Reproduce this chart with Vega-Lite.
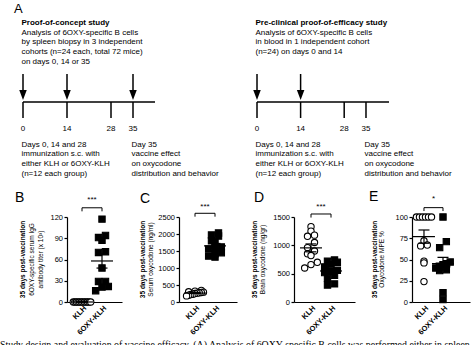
{
  "$schema": "https://vega.github.io/schema/vega-lite/v6.json",
  "padding": 0,
  "config": {
    "view": {"stroke": null},
    "font": "Liberation Sans",
    "axis": {"domainColor": "black", "tickColor": "black", "labelColor": "black", "labelFont": "Liberation Sans", "grid": false, "domainWidth": 1.2, "tickWidth": 1.2, "labelOverlap": false, "labelFlush": false, "labelBound": false},
    "axisY": {"labelOverlap": false},
    "axisQuantitative": {"labelOverlap": false, "tickCount": 10},
    "text": {"font": "Liberation Sans", "color": "black"}
  },
  "title": {"text": "Study design and evaluation of vaccine efficacy. (A) Analysis of 6OXY-specific B cells was performed either in spleen", "orient": "bottom", "anchor": "start", "frame": "group", "dx": -67, "offset": 4, "font": "Liberation Serif", "fontSize": 9.9, "fontWeight": "normal", "color": "black"},
  "datasets": {
    "tl": [
      {"study": "poc", "kind": "line", "day": 0, "end": 42},
      {"study": "poe", "kind": "line", "day": 0, "end": 42.4},
      {"study": "poc", "kind": "tick", "day": 0}, {"study": "poc", "kind": "tick", "day": 14}, {"study": "poc", "kind": "tick", "day": 28}, {"study": "poc", "kind": "tick", "day": 35},
      {"study": "poe", "kind": "tick", "day": 0}, {"study": "poe", "kind": "tick", "day": 14}, {"study": "poe", "kind": "tick", "day": 28}, {"study": "poe", "kind": "tick", "day": 35},
      {"study": "poc", "kind": "arrow", "day": 0}, {"study": "poc", "kind": "arrow", "day": 14}, {"study": "poc", "kind": "arrow", "day": 35},
      {"study": "poe", "kind": "arrow", "day": 0}, {"study": "poe", "kind": "arrow", "day": 14},
      {"study": "poc", "kind": "head", "day": 0, "title": "Proof-of-concept study", "body": ["Analysis of 6OXY-specific B cells", "by spleen biopsy in 3 independent", "cohorts (n=24 each, total 72 mice)", "on days 0, 14 or 35"]},
      {"study": "poe", "kind": "head", "day": 0, "title": "Pre-clinical proof-of-efficacy study", "body": ["Analysis of 6OXY-specific B cells", "in blood in 1 independent cohort", "(n=24) on days 0 and 14"]},
      {"study": "poc", "kind": "note", "day": 0, "body": ["Days 0, 14 and 28", "immunization s.c. with", "either KLH or 6OXY-KLH", "(n=12 each group)"]},
      {"study": "poc", "kind": "note", "day": 35, "body": ["Day 35", "vaccine effect", "on oxycodone", "distribution and behavior"]},
      {"study": "poe", "kind": "note", "day": 0, "body": ["Days 0, 14 and 28", "immunization s.c. with", "either KLH or 6OXY-KLH", "(n=12 each group)"]},
      {"study": "poe", "kind": "note", "day": 35, "body": ["Day 35", "vaccine effect", "on oxycodone", "distribution and behavior"]}
    ],
    "panels": [
      {"panel": "B", "stars": "***", "t0": "35 days post-vaccination", "t1": "6OXY-specific serum IgG", "t2": "antibody titer (x 10³)"},
      {"panel": "C", "stars": "***", "t0": "35 days post-vaccination", "t1": "Serum oxycodone (ng/ml)"},
      {"panel": "D", "stars": "***", "t0": "35 days post-vaccination", "t1": "Brain oxycodone (ng/gr)"},
      {"panel": "E", "stars": "*", "t0": "35 days post-vaccination", "t1": "Oxycodone MPE %"}
    ],
    "dots": [
      {"panel": "B", "group": "KLH", "value": 0}, {"panel": "B", "group": "KLH", "value": 0}, {"panel": "B", "group": "KLH", "value": 0}, {"panel": "B", "group": "KLH", "value": 0},
      {"panel": "B", "group": "KLH", "value": 0}, {"panel": "B", "group": "KLH", "value": 0}, {"panel": "B", "group": "KLH", "value": 0}, {"panel": "B", "group": "KLH", "value": 0},
      {"panel": "B", "group": "KLH", "value": 0}, {"panel": "B", "group": "KLH", "value": 0}, {"panel": "B", "group": "KLH", "value": 0}, {"panel": "B", "group": "KLH", "value": 0},
      {"panel": "B", "group": "6OXY-KLH", "value": 117}, {"panel": "B", "group": "6OXY-KLH", "value": 94}, {"panel": "B", "group": "6OXY-KLH", "value": 91}, {"panel": "B", "group": "6OXY-KLH", "value": 87},
      {"panel": "B", "group": "6OXY-KLH", "value": 71}, {"panel": "B", "group": "6OXY-KLH", "value": 70}, {"panel": "B", "group": "6OXY-KLH", "value": 48}, {"panel": "B", "group": "6OXY-KLH", "value": 29},
      {"panel": "B", "group": "6OXY-KLH", "value": 29}, {"panel": "B", "group": "6OXY-KLH", "value": 22}, {"panel": "B", "group": "6OXY-KLH", "value": 21}, {"panel": "B", "group": "6OXY-KLH", "value": 16},
      {"panel": "C", "group": "KLH", "value": 340}, {"panel": "C", "group": "KLH", "value": 320}, {"panel": "C", "group": "KLH", "value": 300}, {"panel": "C", "group": "KLH", "value": 290},
      {"panel": "C", "group": "KLH", "value": 280}, {"panel": "C", "group": "KLH", "value": 270}, {"panel": "C", "group": "KLH", "value": 260}, {"panel": "C", "group": "KLH", "value": 250},
      {"panel": "C", "group": "KLH", "value": 230}, {"panel": "C", "group": "KLH", "value": 220}, {"panel": "C", "group": "KLH", "value": 200}, {"panel": "C", "group": "KLH", "value": 180},
      {"panel": "C", "group": "6OXY-KLH", "value": 2030}, {"panel": "C", "group": "6OXY-KLH", "value": 1970}, {"panel": "C", "group": "6OXY-KLH", "value": 1940}, {"panel": "C", "group": "6OXY-KLH", "value": 1800},
      {"panel": "C", "group": "6OXY-KLH", "value": 1760}, {"panel": "C", "group": "6OXY-KLH", "value": 1620}, {"panel": "C", "group": "6OXY-KLH", "value": 1590}, {"panel": "C", "group": "6OXY-KLH", "value": 1560},
      {"panel": "C", "group": "6OXY-KLH", "value": 1450}, {"panel": "C", "group": "6OXY-KLH", "value": 1420}, {"panel": "C", "group": "6OXY-KLH", "value": 1350}, {"panel": "C", "group": "6OXY-KLH", "value": 1320},
      {"panel": "D", "group": "KLH", "value": 1330}, {"panel": "D", "group": "KLH", "value": 1250}, {"panel": "D", "group": "KLH", "value": 1180}, {"panel": "D", "group": "KLH", "value": 1160},
      {"panel": "D", "group": "KLH", "value": 1050}, {"panel": "D", "group": "KLH", "value": 960}, {"panel": "D", "group": "KLH", "value": 900}, {"panel": "D", "group": "KLH", "value": 850},
      {"panel": "D", "group": "KLH", "value": 820}, {"panel": "D", "group": "KLH", "value": 700}, {"panel": "D", "group": "KLH", "value": 660}, {"panel": "D", "group": "KLH", "value": 600},
      {"panel": "D", "group": "6OXY-KLH", "value": 740}, {"panel": "D", "group": "6OXY-KLH", "value": 720}, {"panel": "D", "group": "6OXY-KLH", "value": 700}, {"panel": "D", "group": "6OXY-KLH", "value": 660},
      {"panel": "D", "group": "6OXY-KLH", "value": 620}, {"panel": "D", "group": "6OXY-KLH", "value": 560}, {"panel": "D", "group": "6OXY-KLH", "value": 540}, {"panel": "D", "group": "6OXY-KLH", "value": 520},
      {"panel": "D", "group": "6OXY-KLH", "value": 470}, {"panel": "D", "group": "6OXY-KLH", "value": 420}, {"panel": "D", "group": "6OXY-KLH", "value": 320}, {"panel": "D", "group": "6OXY-KLH", "value": 300},
      {"panel": "E", "group": "KLH", "value": 100}, {"panel": "E", "group": "KLH", "value": 100}, {"panel": "E", "group": "KLH", "value": 100}, {"panel": "E", "group": "KLH", "value": 100},
      {"panel": "E", "group": "KLH", "value": 100}, {"panel": "E", "group": "KLH", "value": 100}, {"panel": "E", "group": "KLH", "value": 72}, {"panel": "E", "group": "KLH", "value": 67},
      {"panel": "E", "group": "KLH", "value": 66}, {"panel": "E", "group": "KLH", "value": 48}, {"panel": "E", "group": "KLH", "value": 46}, {"panel": "E", "group": "KLH", "value": 24},
      {"panel": "E", "group": "6OXY-KLH", "value": 100}, {"panel": "E", "group": "6OXY-KLH", "value": 71}, {"panel": "E", "group": "6OXY-KLH", "value": 64}, {"panel": "E", "group": "6OXY-KLH", "value": 47},
      {"panel": "E", "group": "6OXY-KLH", "value": 45}, {"panel": "E", "group": "6OXY-KLH", "value": 44}, {"panel": "E", "group": "6OXY-KLH", "value": 42}, {"panel": "E", "group": "6OXY-KLH", "value": 40},
      {"panel": "E", "group": "6OXY-KLH", "value": 38}, {"panel": "E", "group": "6OXY-KLH", "value": 37}, {"panel": "E", "group": "6OXY-KLH", "value": 11}, {"panel": "E", "group": "6OXY-KLH", "value": 3}
    ]
  },
  "columns": 4,
  "align": "each",
  "bounds": "flush",
  "spacing": {"row": 32, "column": 57},
  "concat": [
    {
      "width": 55, "height": 185,
      "data": {"name": "tl"},
      "transform": [{"filter": "datum.study === 'poc'"}],
      "layer": [
        {"transform": [{"filter": "datum.kind === 'line'"}], "mark": {"type": "rule", "strokeWidth": 1.5, "color": "black"},
         "encoding": {"x": {"field": "day", "type": "quantitative", "scale": {"domain": [14, 31.5], "nice": false, "zero": false}, "axis": null}, "x2": {"field": "end"}, "y": {"datum": 10.2, "type": "quantitative", "scale": {"domain": [0, 18.5], "reverse": true, "nice": false, "zero": false}, "axis": null}}},
        {"transform": [{"filter": "datum.kind === 'tick'"}], "mark": {"type": "rule", "strokeWidth": 1.5, "color": "black"},
         "encoding": {"x": {"field": "day", "type": "quantitative"}, "y": {"datum": 10.2, "type": "quantitative"}, "y2": {"datum": 11.8}}},
        {"transform": [{"filter": "datum.kind === 'tick'"}], "mark": {"type": "text", "fontSize": 8, "align": "center", "baseline": "middle"},
         "encoding": {"x": {"field": "day", "type": "quantitative"}, "y": {"datum": 12.85, "type": "quantitative"}, "text": {"field": "day"}}},
        {"transform": [{"filter": "datum.kind === 'arrow'"}], "mark": {"type": "rule", "strokeWidth": 1.5, "color": "black"},
         "encoding": {"x": {"field": "day", "type": "quantitative"}, "y": {"datum": 7.4, "type": "quantitative"}, "y2": {"datum": 9.2}}},
        {"transform": [{"filter": "datum.kind === 'arrow'"}], "mark": {"type": "point", "shape": "M-0.75,-1L0.75,-1L0,1Z", "size": 100, "filled": true, "color": "black", "opacity": 1},
         "encoding": {"x": {"field": "day", "type": "quantitative"}, "y": {"datum": 9.5, "type": "quantitative"}}},
        {"transform": [{"filter": "datum.kind === 'head'"}], "mark": {"type": "text", "fontSize": 8, "fontWeight": "bold", "align": "left", "baseline": "top", "dx": -1.5},
         "encoding": {"x": {"field": "day", "type": "quantitative"}, "y": {"datum": 1.86, "type": "quantitative"}, "text": {"field": "title"}}},
        {"transform": [{"filter": "datum.kind === 'head'"}], "mark": {"type": "text", "fontSize": 8, "align": "left", "baseline": "top", "lineHeight": 9.8, "dx": -1.5},
         "encoding": {"x": {"field": "day", "type": "quantitative"}, "y": {"datum": 2.86, "type": "quantitative"}, "text": {"field": "body"}}},
        {"transform": [{"filter": "datum.kind === 'note'"}], "mark": {"type": "text", "fontSize": 8, "align": "left", "baseline": "top", "lineHeight": 9.9, "dx": -1.5},
         "encoding": {"x": {"field": "day", "type": "quantitative"}, "y": {"datum": 14.06, "type": "quantitative"}, "text": {"field": "body"}}},
        {"data": {"values": [{"label": "A"}]}, "transform": [], "mark": {"type": "text", "fontSize": 13, "align": "left", "baseline": "alphabetic"},
         "encoding": {"x": {"datum": -2.86, "type": "quantitative"}, "y": {"datum": 1.3, "type": "quantitative"}, "text": {"field": "label"}}}
      ]
    },
    {"width": 58, "height": 185, "data": {"values": []}, "mark": "point"},
    {
      "width": 61, "height": 185,
      "data": {"name": "tl"},
      "transform": [{"filter": "datum.study === 'poe'"}],
      "layer": [
        {"transform": [{"filter": "datum.kind === 'line'"}], "mark": {"type": "rule", "strokeWidth": 1.5, "color": "black"},
         "encoding": {"x": {"field": "day", "type": "quantitative", "scale": {"domain": [11.88, 31.47], "nice": false, "zero": false}, "axis": null}, "x2": {"field": "end"}, "y": {"datum": 10.2, "type": "quantitative", "scale": {"domain": [0, 18.5], "reverse": true, "nice": false, "zero": false}, "axis": null}}},
        {"transform": [{"filter": "datum.kind === 'tick'"}], "mark": {"type": "rule", "strokeWidth": 1.5, "color": "black"},
         "encoding": {"x": {"field": "day", "type": "quantitative"}, "y": {"datum": 10.2, "type": "quantitative"}, "y2": {"datum": 11.8}}},
        {"transform": [{"filter": "datum.kind === 'tick'"}], "mark": {"type": "text", "fontSize": 8, "align": "center", "baseline": "middle"},
         "encoding": {"x": {"field": "day", "type": "quantitative"}, "y": {"datum": 12.85, "type": "quantitative"}, "text": {"field": "day"}}},
        {"transform": [{"filter": "datum.kind === 'arrow'"}], "mark": {"type": "rule", "strokeWidth": 1.5, "color": "black"},
         "encoding": {"x": {"field": "day", "type": "quantitative"}, "y": {"datum": 7.4, "type": "quantitative"}, "y2": {"datum": 9.2}}},
        {"transform": [{"filter": "datum.kind === 'arrow'"}], "mark": {"type": "point", "shape": "M-0.75,-1L0.75,-1L0,1Z", "size": 100, "filled": true, "color": "black", "opacity": 1},
         "encoding": {"x": {"field": "day", "type": "quantitative"}, "y": {"datum": 9.5, "type": "quantitative"}}},
        {"transform": [{"filter": "datum.kind === 'head'"}], "mark": {"type": "text", "fontSize": 8, "fontWeight": "bold", "align": "left", "baseline": "top", "dx": -1.5},
         "encoding": {"x": {"field": "day", "type": "quantitative"}, "y": {"datum": 1.86, "type": "quantitative"}, "text": {"field": "title"}}},
        {"transform": [{"filter": "datum.kind === 'head'"}], "mark": {"type": "text", "fontSize": 8, "align": "left", "baseline": "top", "lineHeight": 9.8, "dx": -1.5},
         "encoding": {"x": {"field": "day", "type": "quantitative"}, "y": {"datum": 2.86, "type": "quantitative"}, "text": {"field": "body"}}},
        {"transform": [{"filter": "datum.kind === 'note'"}], "mark": {"type": "text", "fontSize": 8, "align": "left", "baseline": "top", "lineHeight": 9.9, "dx": -1.5},
         "encoding": {"x": {"field": "day", "type": "quantitative"}, "y": {"datum": 14.06, "type": "quantitative"}, "text": {"field": "body"}}}
      ]
    },
    {"width": 58, "height": 185, "data": {"values": []}, "mark": "point"},
    {
      "width": 55, "height": 85,
      "layer": [
        {"data": {"name": "dots"},
         "transform": [{"filter": "datum.panel === 'B'"}, {"bin": {"step": 8}, "field": "value", "as": "vb"}, {"joinaggregate": [{"op": "count", "as": "n"}], "groupby": ["group", "vb"]}, {"window": [{"op": "row_number", "as": "slot"}], "groupby": ["group", "vb"], "sort": [{"field": "value", "order": "ascending"}]}, {"calculate": "(datum.group === 'KLH' ? 1 : 2) + (datum.slot - 1 - (datum.n - 1) / 2) * min(0.35, 0.95 / datum.n)", "as": "pos"}],
         "mark": {"type": "point", "filled": true, "size": 40, "stroke": "black", "strokeWidth": 1.1, "opacity": 1},
         "encoding": {
           "x": {"field": "pos", "type": "quantitative", "title": null, "scale": {"domain": [0.25, 3], "nice": false, "zero": false}, "axis": {"values": [1, 2], "labelExpr": "datum.value === 1 ? 'KLH' : '6OXY-KLH'", "labelAngle": -45, "ticks": false, "labelOverlap": false, "labelFlush": false, "labelFontSize": 7.5, "labelFontWeight": "bold", "labelPadding": 2}},
           "y": {"field": "value", "type": "quantitative", "title": null, "scale": {"domain": [0, 120], "nice": false, "zero": false}, "axis": {"values": [0, 30, 60, 90, 120], "format": "d", "tickSize": 3, "labelFontSize": 7.5, "labelPadding": 1.5, "labelFlush": false, "labelOverlap": false}},
           "shape": {"field": "group", "type": "nominal", "scale": {"domain": ["KLH", "6OXY-KLH"], "range": ["circle", "square"]}, "legend": null},
           "fill": {"field": "group", "type": "nominal", "scale": {"domain": ["KLH", "6OXY-KLH"], "range": ["white", "black"]}, "legend": null}
         }},
        {"data": {"name": "dots"},
         "transform": [{"filter": "datum.panel === 'B'"}, {"aggregate": [{"op": "mean", "field": "value", "as": "m"}, {"op": "stderr", "field": "value", "as": "se"}], "groupby": ["group"]}, {"calculate": "datum.group === 'KLH' ? 1 : 2", "as": "gi"}, {"calculate": "datum.m - datum.se", "as": "lo"}, {"calculate": "datum.m + datum.se", "as": "hi"}],
         "layer": [
           {"mark": {"type": "tick", "orient": "horizontal", "size": 22, "thickness": 1.2, "color": "black", "opacity": 1}, "encoding": {"x": {"field": "gi", "type": "quantitative", "title": null}, "y": {"field": "m", "type": "quantitative", "title": null}}},
           {"mark": {"type": "rule", "strokeWidth": 1.2, "color": "black"}, "encoding": {"x": {"field": "gi", "type": "quantitative", "title": null}, "y": {"field": "lo", "type": "quantitative", "title": null}, "y2": {"field": "hi"}}},
           {"mark": {"type": "tick", "orient": "horizontal", "size": 11, "thickness": 1.2, "color": "black", "opacity": 1}, "encoding": {"x": {"field": "gi", "type": "quantitative", "title": null}, "y": {"field": "lo", "type": "quantitative", "title": null}}},
           {"mark": {"type": "tick", "orient": "horizontal", "size": 11, "thickness": 1.2, "color": "black", "opacity": 1}, "encoding": {"x": {"field": "gi", "type": "quantitative", "title": null}, "y": {"field": "hi", "type": "quantitative", "title": null}}}
         ]},
        {"data": {"name": "panels"}, "transform": [{"filter": "datum.panel === 'B'"}],
         "layer": [
           {"mark": {"type": "rule", "strokeWidth": 1, "color": "black"}, "encoding": {"x": {"datum": 1, "type": "quantitative"}, "x2": {"datum": 2}, "y": {"datum": 133, "type": "quantitative"}}},
           {"mark": {"type": "rule", "strokeWidth": 1, "color": "black"}, "encoding": {"x": {"datum": 1, "type": "quantitative"}, "y": {"datum": 133, "type": "quantitative"}, "y2": {"datum": 128}}},
           {"mark": {"type": "rule", "strokeWidth": 1, "color": "black"}, "encoding": {"x": {"datum": 2, "type": "quantitative"}, "y": {"datum": 133, "type": "quantitative"}, "y2": {"datum": 128}}},
           {"mark": {"type": "text", "fontSize": 8, "align": "center", "baseline": "alphabetic"}, "encoding": {"x": {"datum": 1.5, "type": "quantitative"}, "y": {"datum": 140.5, "type": "quantitative"}, "text": {"field": "stars"}}},
           {"mark": {"type": "text", "fontSize": 14, "align": "left", "baseline": "alphabetic"}, "encoding": {"x": {"datum": -2.35, "type": "quantitative"}, "y": {"datum": 141.2, "type": "quantitative"}, "text": {"field": "panel"}}},
           {"mark": {"type": "text", "fontSize": 6.5, "fontWeight": "bold", "angle": 270, "align": "center", "baseline": "middle"}, "encoding": {"x": {"datum": -1.95, "type": "quantitative"}, "y": {"datum": 60, "type": "quantitative"}, "text": {"field": "t0"}}},
           {"mark": {"type": "text", "fontSize": 6.5, "angle": 270, "align": "center", "baseline": "middle"}, "encoding": {"x": {"datum": -1.5, "type": "quantitative"}, "y": {"datum": 60, "type": "quantitative"}, "text": {"field": "t1"}}},
           {"mark": {"type": "text", "fontSize": 6.5, "angle": 270, "align": "center", "baseline": "middle"}, "encoding": {"x": {"datum": -1.05, "type": "quantitative"}, "y": {"datum": 60, "type": "quantitative"}, "text": {"field": "t2"}}}
         ]}
      ]
    },
    {
      "width": 58, "height": 85,
      "layer": [
        {"data": {"name": "dots"},
         "transform": [{"filter": "datum.panel === 'C'"}, {"bin": {"step": 150}, "field": "value", "as": "vb"}, {"joinaggregate": [{"op": "count", "as": "n"}], "groupby": ["group", "vb"]}, {"window": [{"op": "row_number", "as": "slot"}], "groupby": ["group", "vb"], "sort": [{"field": "value", "order": "ascending"}]}, {"calculate": "(datum.group === 'KLH' ? 1 : 2) + (datum.slot - 1 - (datum.n - 1) / 2) * min(0.35, 0.95 / datum.n)", "as": "pos"}],
         "mark": {"type": "point", "filled": true, "size": 40, "stroke": "black", "strokeWidth": 1.1, "opacity": 1},
         "encoding": {
           "x": {"field": "pos", "type": "quantitative", "title": null, "scale": {"domain": [0.2, 3.1], "nice": false, "zero": false}, "axis": {"values": [1, 2], "labelExpr": "datum.value === 1 ? 'KLH' : '6OXY-KLH'", "labelAngle": -45, "ticks": false, "labelOverlap": false, "labelFlush": false, "labelFontSize": 7.5, "labelFontWeight": "bold", "labelPadding": 2}},
           "y": {"field": "value", "type": "quantitative", "title": null, "scale": {"domain": [0, 2500], "nice": false, "zero": false}, "axis": {"values": [0, 500, 1000, 1500, 2000, 2500], "format": "d", "tickSize": 3, "labelFontSize": 7.5, "labelPadding": 1.5, "labelFlush": false, "labelOverlap": false}},
           "shape": {"field": "group", "type": "nominal", "scale": {"domain": ["KLH", "6OXY-KLH"], "range": ["circle", "square"]}, "legend": null},
           "fill": {"field": "group", "type": "nominal", "scale": {"domain": ["KLH", "6OXY-KLH"], "range": ["white", "black"]}, "legend": null}
         }},
        {"data": {"name": "dots"},
         "transform": [{"filter": "datum.panel === 'C'"}, {"aggregate": [{"op": "mean", "field": "value", "as": "m"}, {"op": "stderr", "field": "value", "as": "se"}], "groupby": ["group"]}, {"calculate": "datum.group === 'KLH' ? 1 : 2", "as": "gi"}, {"calculate": "datum.m - datum.se", "as": "lo"}, {"calculate": "datum.m + datum.se", "as": "hi"}],
         "layer": [
           {"mark": {"type": "tick", "orient": "horizontal", "size": 22, "thickness": 1.2, "color": "black", "opacity": 1}, "encoding": {"x": {"field": "gi", "type": "quantitative", "title": null}, "y": {"field": "m", "type": "quantitative", "title": null}}},
           {"mark": {"type": "rule", "strokeWidth": 1.2, "color": "black"}, "encoding": {"x": {"field": "gi", "type": "quantitative", "title": null}, "y": {"field": "lo", "type": "quantitative", "title": null}, "y2": {"field": "hi"}}},
           {"mark": {"type": "tick", "orient": "horizontal", "size": 11, "thickness": 1.2, "color": "black", "opacity": 1}, "encoding": {"x": {"field": "gi", "type": "quantitative", "title": null}, "y": {"field": "lo", "type": "quantitative", "title": null}}},
           {"mark": {"type": "tick", "orient": "horizontal", "size": 11, "thickness": 1.2, "color": "black", "opacity": 1}, "encoding": {"x": {"field": "gi", "type": "quantitative", "title": null}, "y": {"field": "hi", "type": "quantitative", "title": null}}}
         ]},
        {"data": {"name": "panels"}, "transform": [{"filter": "datum.panel === 'C'"}],
         "layer": [
           {"mark": {"type": "rule", "strokeWidth": 1, "color": "black"}, "encoding": {"x": {"datum": 1, "type": "quantitative"}, "x2": {"datum": 2}, "y": {"datum": 2609, "type": "quantitative"}}},
           {"mark": {"type": "rule", "strokeWidth": 1, "color": "black"}, "encoding": {"x": {"datum": 1, "type": "quantitative"}, "y": {"datum": 2609, "type": "quantitative"}, "y2": {"datum": 2510}}},
           {"mark": {"type": "rule", "strokeWidth": 1, "color": "black"}, "encoding": {"x": {"datum": 2, "type": "quantitative"}, "y": {"datum": 2609, "type": "quantitative"}, "y2": {"datum": 2510}}},
           {"mark": {"type": "text", "fontSize": 8, "align": "center", "baseline": "alphabetic"}, "encoding": {"x": {"datum": 1.5, "type": "quantitative"}, "y": {"datum": 2750, "type": "quantitative"}, "text": {"field": "stars"}}},
           {"mark": {"type": "text", "fontSize": 14, "align": "left", "baseline": "alphabetic"}, "encoding": {"x": {"datum": -1.75, "type": "quantitative"}, "y": {"datum": 2912, "type": "quantitative"}, "text": {"field": "panel"}}},
           {"mark": {"type": "text", "fontSize": 6.5, "fontWeight": "bold", "angle": 270, "align": "center", "baseline": "middle"}, "encoding": {"x": {"datum": -1.6, "type": "quantitative"}, "y": {"datum": 1250, "type": "quantitative"}, "text": {"field": "t0"}}},
           {"mark": {"type": "text", "fontSize": 6.5, "angle": 270, "align": "center", "baseline": "middle"}, "encoding": {"x": {"datum": -1.2, "type": "quantitative"}, "y": {"datum": 1250, "type": "quantitative"}, "text": {"field": "t1"}}}
         ]}
      ]
    },
    {
      "width": 61, "height": 85,
      "layer": [
        {"data": {"name": "dots"},
         "transform": [{"filter": "datum.panel === 'D'"}, {"bin": {"step": 120}, "field": "value", "as": "vb"}, {"joinaggregate": [{"op": "count", "as": "n"}], "groupby": ["group", "vb"]}, {"window": [{"op": "row_number", "as": "slot"}], "groupby": ["group", "vb"], "sort": [{"field": "value", "order": "ascending"}]}, {"calculate": "(datum.group === 'KLH' ? 1 : 2) + (datum.slot - 1 - (datum.n - 1) / 2) * min(0.35, 0.95 / datum.n)", "as": "pos"}],
         "mark": {"type": "point", "filled": true, "size": 40, "stroke": "black", "strokeWidth": 1.1, "opacity": 1},
         "encoding": {
           "x": {"field": "pos", "type": "quantitative", "title": null, "scale": {"domain": [0.15, 3.2], "nice": false, "zero": false}, "axis": {"values": [1, 2], "labelExpr": "datum.value === 1 ? 'KLH' : '6OXY-KLH'", "labelAngle": -45, "ticks": false, "labelOverlap": false, "labelFlush": false, "labelFontSize": 7.5, "labelFontWeight": "bold", "labelPadding": 2}},
           "y": {"field": "value", "type": "quantitative", "title": null, "scale": {"domain": [0, 1500], "nice": false, "zero": false}, "axis": {"values": [0, 500, 1000, 1500], "format": "d", "tickSize": 3, "labelFontSize": 7.5, "labelPadding": 1.5, "labelFlush": false, "labelOverlap": false}},
           "shape": {"field": "group", "type": "nominal", "scale": {"domain": ["KLH", "6OXY-KLH"], "range": ["circle", "square"]}, "legend": null},
           "fill": {"field": "group", "type": "nominal", "scale": {"domain": ["KLH", "6OXY-KLH"], "range": ["white", "black"]}, "legend": null}
         }},
        {"data": {"name": "dots"},
         "transform": [{"filter": "datum.panel === 'D'"}, {"aggregate": [{"op": "mean", "field": "value", "as": "m"}, {"op": "stderr", "field": "value", "as": "se"}], "groupby": ["group"]}, {"calculate": "datum.group === 'KLH' ? 1 : 2", "as": "gi"}, {"calculate": "datum.m - datum.se", "as": "lo"}, {"calculate": "datum.m + datum.se", "as": "hi"}],
         "layer": [
           {"mark": {"type": "tick", "orient": "horizontal", "size": 22, "thickness": 1.2, "color": "black", "opacity": 1}, "encoding": {"x": {"field": "gi", "type": "quantitative", "title": null}, "y": {"field": "m", "type": "quantitative", "title": null}}},
           {"mark": {"type": "rule", "strokeWidth": 1.2, "color": "black"}, "encoding": {"x": {"field": "gi", "type": "quantitative", "title": null}, "y": {"field": "lo", "type": "quantitative", "title": null}, "y2": {"field": "hi"}}},
           {"mark": {"type": "tick", "orient": "horizontal", "size": 11, "thickness": 1.2, "color": "black", "opacity": 1}, "encoding": {"x": {"field": "gi", "type": "quantitative", "title": null}, "y": {"field": "lo", "type": "quantitative", "title": null}}},
           {"mark": {"type": "tick", "orient": "horizontal", "size": 11, "thickness": 1.2, "color": "black", "opacity": 1}, "encoding": {"x": {"field": "gi", "type": "quantitative", "title": null}, "y": {"field": "hi", "type": "quantitative", "title": null}}}
         ]},
        {"data": {"name": "panels"}, "transform": [{"filter": "datum.panel === 'D'"}],
         "layer": [
           {"mark": {"type": "rule", "strokeWidth": 1, "color": "black"}, "encoding": {"x": {"datum": 1, "type": "quantitative"}, "x2": {"datum": 2}, "y": {"datum": 1553, "type": "quantitative"}}},
           {"mark": {"type": "rule", "strokeWidth": 1, "color": "black"}, "encoding": {"x": {"datum": 1, "type": "quantitative"}, "y": {"datum": 1553, "type": "quantitative"}, "y2": {"datum": 1490}}},
           {"mark": {"type": "rule", "strokeWidth": 1, "color": "black"}, "encoding": {"x": {"datum": 2, "type": "quantitative"}, "y": {"datum": 1553, "type": "quantitative"}, "y2": {"datum": 1490}}},
           {"mark": {"type": "text", "fontSize": 8, "align": "center", "baseline": "alphabetic"}, "encoding": {"x": {"datum": 1.5, "type": "quantitative"}, "y": {"datum": 1650, "type": "quantitative"}, "text": {"field": "stars"}}},
           {"mark": {"type": "text", "fontSize": 14, "align": "left", "baseline": "alphabetic"}, "encoding": {"x": {"datum": -1.85, "type": "quantitative"}, "y": {"datum": 1765, "type": "quantitative"}, "text": {"field": "panel"}}},
           {"mark": {"type": "text", "fontSize": 6.5, "fontWeight": "bold", "angle": 270, "align": "center", "baseline": "middle"}, "encoding": {"x": {"datum": -1.8, "type": "quantitative"}, "y": {"datum": 750, "type": "quantitative"}, "text": {"field": "t0"}}},
           {"mark": {"type": "text", "fontSize": 6.5, "angle": 270, "align": "center", "baseline": "middle"}, "encoding": {"x": {"datum": -1.425, "type": "quantitative"}, "y": {"datum": 750, "type": "quantitative"}, "text": {"field": "t1"}}}
         ]}
      ]
    },
    {
      "width": 58, "height": 85,
      "layer": [
        {"data": {"name": "dots"},
         "transform": [{"filter": "datum.panel === 'E'"}, {"bin": {"step": 8}, "field": "value", "as": "vb"}, {"joinaggregate": [{"op": "count", "as": "n"}], "groupby": ["group", "vb"]}, {"window": [{"op": "row_number", "as": "slot"}], "groupby": ["group", "vb"], "sort": [{"field": "value", "order": "ascending"}]}, {"calculate": "(datum.group === 'KLH' ? 1 : 2) + (datum.slot - 1 - (datum.n - 1) / 2) * min(0.35, 0.95 / datum.n)", "as": "pos"}],
         "mark": {"type": "point", "filled": true, "size": 40, "stroke": "black", "strokeWidth": 1.1, "opacity": 1},
         "encoding": {
           "x": {"field": "pos", "type": "quantitative", "title": null, "scale": {"domain": [0.37, 3.42], "nice": false, "zero": false}, "axis": {"values": [1, 2], "labelExpr": "datum.value === 1 ? 'KLH' : '6OXY-KLH'", "labelAngle": -45, "ticks": false, "labelOverlap": false, "labelFlush": false, "labelFontSize": 7.5, "labelFontWeight": "bold", "labelPadding": 2}},
           "y": {"field": "value", "type": "quantitative", "title": null, "scale": {"domain": [0, 100], "nice": false, "zero": false}, "axis": {"values": [0, 25, 50, 75, 100], "format": "d", "tickSize": 3, "labelFontSize": 7.5, "labelPadding": 1.5, "labelFlush": false, "labelOverlap": false}},
           "shape": {"field": "group", "type": "nominal", "scale": {"domain": ["KLH", "6OXY-KLH"], "range": ["circle", "square"]}, "legend": null},
           "fill": {"field": "group", "type": "nominal", "scale": {"domain": ["KLH", "6OXY-KLH"], "range": ["white", "black"]}, "legend": null}
         }},
        {"data": {"name": "dots"},
         "transform": [{"filter": "datum.panel === 'E'"}, {"aggregate": [{"op": "mean", "field": "value", "as": "m"}, {"op": "stderr", "field": "value", "as": "se"}], "groupby": ["group"]}, {"calculate": "datum.group === 'KLH' ? 1 : 2", "as": "gi"}, {"calculate": "datum.m - datum.se", "as": "lo"}, {"calculate": "datum.m + datum.se", "as": "hi"}],
         "layer": [
           {"mark": {"type": "tick", "orient": "horizontal", "size": 22, "thickness": 1.2, "color": "black", "opacity": 1}, "encoding": {"x": {"field": "gi", "type": "quantitative", "title": null}, "y": {"field": "m", "type": "quantitative", "title": null}}},
           {"mark": {"type": "rule", "strokeWidth": 1.2, "color": "black"}, "encoding": {"x": {"field": "gi", "type": "quantitative", "title": null}, "y": {"field": "lo", "type": "quantitative", "title": null}, "y2": {"field": "hi"}}},
           {"mark": {"type": "tick", "orient": "horizontal", "size": 11, "thickness": 1.2, "color": "black", "opacity": 1}, "encoding": {"x": {"field": "gi", "type": "quantitative", "title": null}, "y": {"field": "lo", "type": "quantitative", "title": null}}},
           {"mark": {"type": "tick", "orient": "horizontal", "size": 11, "thickness": 1.2, "color": "black", "opacity": 1}, "encoding": {"x": {"field": "gi", "type": "quantitative", "title": null}, "y": {"field": "hi", "type": "quantitative", "title": null}}}
         ]},
        {"data": {"name": "panels"}, "transform": [{"filter": "datum.panel === 'E'"}],
         "layer": [
           {"mark": {"type": "rule", "strokeWidth": 1, "color": "black"}, "encoding": {"x": {"datum": 1, "type": "quantitative"}, "x2": {"datum": 2}, "y": {"datum": 111, "type": "quantitative"}}},
           {"mark": {"type": "rule", "strokeWidth": 1, "color": "black"}, "encoding": {"x": {"datum": 1, "type": "quantitative"}, "y": {"datum": 111, "type": "quantitative"}, "y2": {"datum": 107}}},
           {"mark": {"type": "rule", "strokeWidth": 1, "color": "black"}, "encoding": {"x": {"datum": 2, "type": "quantitative"}, "y": {"datum": 111, "type": "quantitative"}, "y2": {"datum": 107}}},
           {"mark": {"type": "text", "fontSize": 8, "align": "center", "baseline": "alphabetic"}, "encoding": {"x": {"datum": 1.5, "type": "quantitative"}, "y": {"datum": 119.4, "type": "quantitative"}, "text": {"field": "stars"}}},
           {"mark": {"type": "text", "fontSize": 14, "align": "left", "baseline": "alphabetic"}, "encoding": {"x": {"datum": -1.89, "type": "quantitative"}, "y": {"datum": 118.8, "type": "quantitative"}, "text": {"field": "panel"}}},
           {"mark": {"type": "text", "fontSize": 6.5, "fontWeight": "bold", "angle": 270, "align": "center", "baseline": "middle"}, "encoding": {"x": {"datum": -1.58, "type": "quantitative"}, "y": {"datum": 50, "type": "quantitative"}, "text": {"field": "t0"}}},
           {"mark": {"type": "text", "fontSize": 6.5, "angle": 270, "align": "center", "baseline": "middle"}, "encoding": {"x": {"datum": -1.21, "type": "quantitative"}, "y": {"datum": 50, "type": "quantitative"}, "text": {"field": "t1"}}}
         ]}
      ]
    }
  ]
}
